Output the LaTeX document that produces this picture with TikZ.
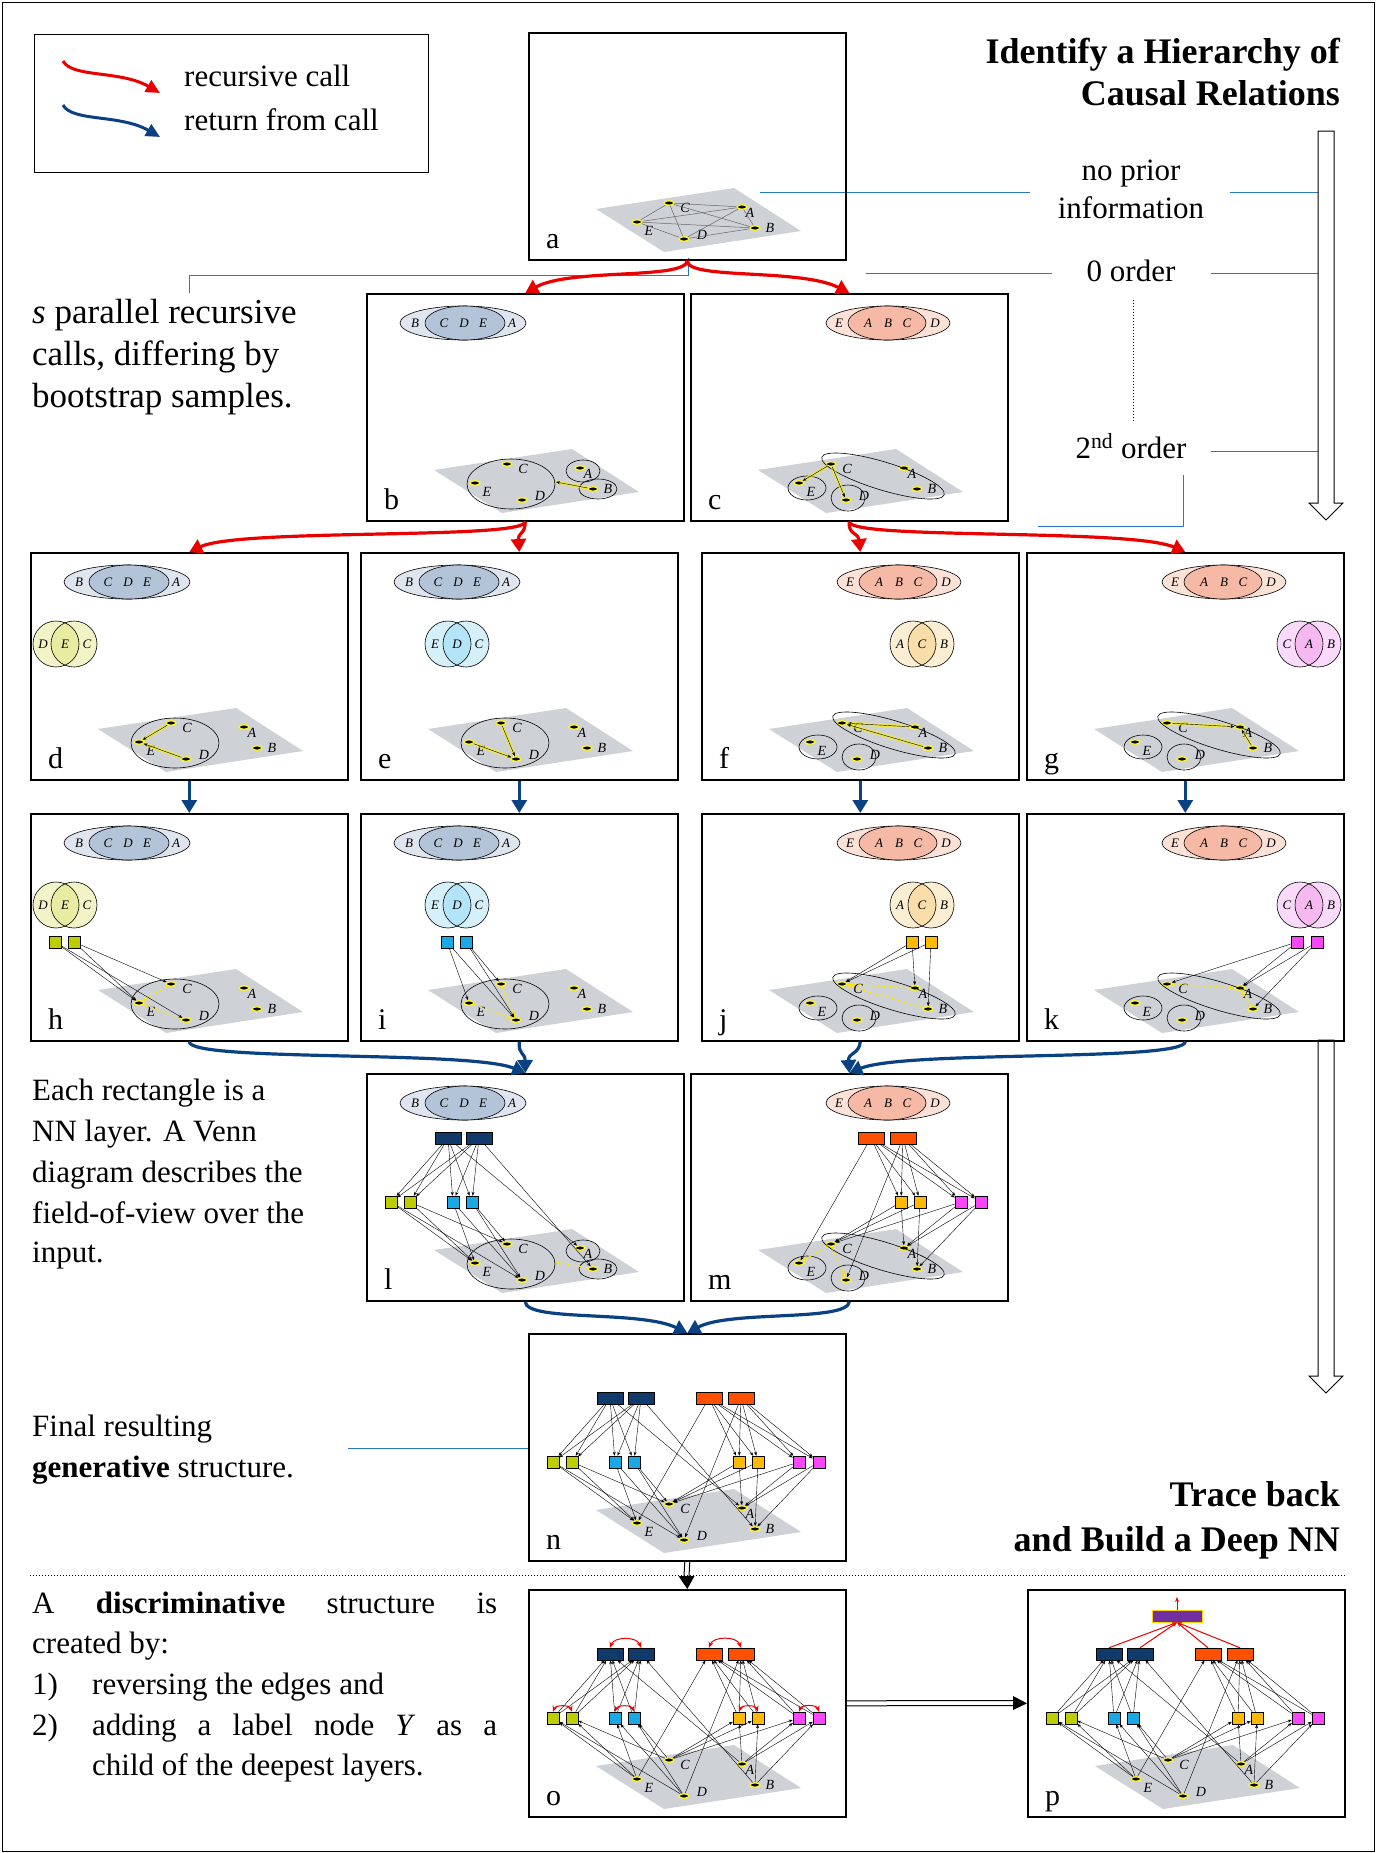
\documentclass[tikz,border=0pt]{standalone}
\usepackage{fontspec}
\setmainfont{Liberation Serif}
\usetikzlibrary{arrows.meta,calc,shapes.geometric}
\definecolor{cdb}{RGB}{15,58,105}
\definecolor{cor}{RGB}{255,80,0}
\definecolor{cg}{RGB}{190,205,0}
\definecolor{cc}{RGB}{25,170,230}
\definecolor{cgo}{RGB}{255,185,0}
\definecolor{cm}{RGB}{250,70,250}
\definecolor{cpu}{RGB}{112,48,160}
\definecolor{cpl}{RGB}{206,210,214}
\definecolor{cred}{RGB}{235,0,0}
\definecolor{carb}{RGB}{10,65,130}
\definecolor{cln}{RGB}{40,120,200}
\definecolor{vbo}{RGB}{222,229,238}
\definecolor{vbi}{RGB}{180,196,216}
\definecolor{vro}{RGB}{252,225,215}
\definecolor{vri}{RGB}{246,185,165}
\definecolor{sgo}{RGB}{242,244,200}\definecolor{sgi}{RGB}{232,236,160}
\definecolor{sbo}{RGB}{214,240,250}\definecolor{sbi}{RGB}{180,228,248}
\definecolor{soo}{RGB}{252,238,210}\definecolor{soi}{RGB}{250,222,170}
\definecolor{spo}{RGB}{250,218,250}\definecolor{spi}{RGB}{245,185,240}
\newcommand\fsz[1]{\fontsize{#1}{#1}\selectfont}
\tikzset{
 pbox/.style={draw=black,line width=1.6pt,minimum width=317pt,minimum height=227pt,inner sep=0pt},
 plab/.style={font=\fsz{30},inner sep=0pt},
 ptn/.style={ellipse,fill=black,draw=yellow!85!white,line width=1.3pt,minimum width=10pt,minimum height=4.5pt,inner sep=0pt},
 plb/.style={font=\fsz{14}\itshape,inner sep=0pt},
 vlb/.style={font=\fsz{13}\itshape,inner sep=0pt},
 sqr/.style={draw=black,line width=0.5pt,minimum size=12pt,inner sep=0pt},
 rct/.style={draw=black,line width=0.5pt,minimum width=26pt,minimum height=12pt,inner sep=0pt},
 ge/.style={-{Stealth[length=4pt,width=3pt]},line width=0.4pt},
 di/.style={{Stealth[length=4pt,width=3pt]}-,line width=0.4pt},
 glow/.style={draw=yellow,line width=3.5pt,opacity=0.6},
 ydot/.style={draw=yellow!90!orange,dashed,line width=1.3pt,-{Stealth[length=5pt,width=4pt]}},
 rarr/.style={draw=cred,line width=3.2pt,-{Triangle[length=13pt,width=15pt]}},
 barr/.style={draw=carb,line width=3.2pt,-{Triangle[length=13pt,width=15pt]}},
 bln/.style={draw=cln,line width=1pt},
 txt/.style={font=\fsz{31},inner sep=0pt,anchor=base west},
 ell/.style={draw=black,line width=0.6pt},
}
\newcommand\pbox[3]{\node[pbox,anchor=north west] (#1) at (#2,#3) {};
 \node[plab,anchor=base west] (#1lab) at (#2+18,#3+216) {#1};}
\newcommand\plane[1]{%
 \fill[cpl] (68,177)--(206,156)--(273,199)--(136,220)--cycle;
 \node[ptn] (#1C) at (141,171) {}; \node[plb] (#1Cl) at (157,176) {C};
 \node[ptn] (#1E) at (109,190) {}; \node[plb] (#1El) at (121,199) {E};
 \node[ptn] (#1D) at (156,207) {}; \node[plb] (#1Dl) at (174,203) {D};
 \node[ptn] (#1A) at (214,175) {}; \node[plb] (#1Al) at (222,181) {A};
 \node[ptn] (#1B) at (227,196) {}; \node[plb] (#1Bl) at (242,196) {B};}
\newcommand\venB[1]{%
 \filldraw[fill=vbo,ell] (97,30) ellipse (63pt and 17pt);
 \filldraw[fill=vbi,ell] (99,30) ellipse (40pt and 17pt);
 \node[vlb] (#1v1) at (49,30) {B}; \node[vlb] (#1v2) at (78,30) {C};
 \node[vlb] (#1v3) at (98,30) {D}; \node[vlb] (#1v4) at (117,30) {E};
 \node[vlb] (#1v5) at (146,30) {A};}
\newcommand\venR[1]{%
 \filldraw[fill=vro,ell] (198,30) ellipse (62pt and 17pt);
 \filldraw[fill=vri,ell] (197,30) ellipse (39pt and 17pt);
 \node[vlb] (#1v1) at (149,30) {E}; \node[vlb] (#1v2) at (178,30) {A};
 \node[vlb] (#1v3) at (198,30) {B}; \node[vlb] (#1v4) at (217,30) {C};
 \node[vlb] (#1v5) at (245,30) {D};}
\newcommand\venS[7]{%
 \fill[#3] (#2-9,92) circle (23pt); \fill[#3] (#2+9,92) circle (23pt);
 \begin{scope}\clip (#2-9,92) circle (23pt); \fill[#4] (#2+9,92) circle (23pt);\end{scope}
 \draw[ell] (#2-9,92) circle (23pt); \draw[ell] (#2+9,92) circle (23pt);
 \node[vlb] (#1s1) at (#2-22,92) {#5}; \node[vlb] (#1s2) at (#2,92) {#6};
 \node[vlb] (#1s3) at (#2+22,92) {#7};}
\newcommand\ellB{\draw[ell] (145,191) ellipse (44pt and 25pt);}
\newcommand\ellAB{\draw[ell] (217,178) ellipse (17pt and 11pt); \draw[ell] (232,196) ellipse (19pt and 10pt);}
\newcommand\ellC{\draw[ell,rotate around={-17:(193,183)}] (193,183) ellipse (64pt and 14pt);
 \draw[ell] (117,195) ellipse (19pt and 12pt); \draw[ell] (158,205) ellipse (17pt and 13pt);}
\newcommand\hl[2]{\draw[glow] (#1)--(#2); \draw[ge] (#1)--(#2);}
\newcommand\Gsq[2]{\node[sqr,fill=cg] (#1G1) at (25,129) {}; \node[sqr,fill=cg] (#1G2) at (44,129) {};
 \draw[#2] (#1G1)--(#1E); \draw[#2] (#1G1)--(#1D); \draw[#2] (#1G2)--(#1E); \draw[#2] (#1G2)--(#1C);}
\newcommand\Bsq[2]{\node[sqr,fill=cc] (#1B1) at (87,129) {}; \node[sqr,fill=cc] (#1B2) at (106,129) {};
 \draw[#2] (#1B1)--(#1E); \draw[#2] (#1B1)--(#1D); \draw[#2] (#1B2)--(#1D); \draw[#2] (#1B2)--(#1C);}
\newcommand\Osq[2]{\node[sqr,fill=cgo] (#1O1) at (211,129) {}; \node[sqr,fill=cgo] (#1O2) at (230,129) {};
 \draw[#2] (#1O1)--(#1C); \draw[#2] (#1O1)--(#1A); \draw[#2] (#1O2)--(#1C); \draw[#2] (#1O2)--(#1B);}
\newcommand\Msq[2]{\node[sqr,fill=cm] (#1M1) at (271,129) {}; \node[sqr,fill=cm] (#1M2) at (291,129) {};
 \draw[#2] (#1M1)--(#1C); \draw[#2] (#1M1)--(#1A); \draw[#2] (#1M2)--(#1A); \draw[#2] (#1M2)--(#1B);}
\newcommand\Brc[2]{\node[rct,fill=cdb] (#1R1) at (82,65) {}; \node[rct,fill=cdb] (#1R2) at (113,65) {};
 \foreach \t in {G1,G2,B1,B2} {\draw[#2] (#1R1)--(#1\t); \draw[#2] (#1R2)--(#1\t);}
 \draw[#2] (#1R1)--(#1A); \draw[#2] (#1R2)--(#1B);}
\newcommand\Orc[2]{\node[rct,fill=cor] (#1R3) at (181,65) {}; \node[rct,fill=cor] (#1R4) at (213,65) {};
 \foreach \t in {O1,O2,M1,M2} {\draw[#2] (#1R3)--(#1\t); \draw[#2] (#1R4)--(#1\t);}
 \draw[#2] (#1R3)--(#1E); \draw[#2] (#1R4)--(#1D);}
\begin{document}
\begin{tikzpicture}[x=1pt,y=-1pt]
\useasboundingbox (0,0) rectangle (1376,1853);
\fill[white] (0,0) rectangle (1376,1853);
\draw[line width=1pt] (2,2) rectangle (1374,1851);
% legend
\node[draw,line width=1pt,anchor=north west,minimum width=394pt,minimum height=138pt] (leg) at (34,34) {};
\coordinate (lr1) at (63,61); \coordinate (lr2) at (160,93);
\coordinate (lb1) at (63,105); \coordinate (lb2) at (160,137);
\draw[draw=cred,line width=3pt,-{Triangle[length=14pt,width=13pt]}] (lr1) .. controls (72,78) and (120,70) .. (lr2);
\draw[draw=carb,line width=3pt,-{Triangle[length=14pt,width=13pt]}] (lb1) .. controls (72,122) and (120,114) .. (lb2);
\node[txt] (t1) at (184,86) {recursive call};
\node[txt] (t2) at (184,130) {return from call};
% titles
\node[font=\fsz{36}\bfseries,inner sep=0pt,anchor=base east] (h1) at (1340,63) {Identify a Hierarchy of};
\node[font=\fsz{36}\bfseries,inner sep=0pt,anchor=base east] (h2) at (1340,105) {Causal Relations};
\node[font=\fsz{36}\bfseries,inner sep=0pt,anchor=base east] (h3) at (1340,1506) {Trace back};
\node[font=\fsz{36}\bfseries,inner sep=0pt,anchor=base east] (h4) at (1340,1551) {and Build a Deep NN};
% right labels
\node[font=\fsz{31},inner sep=0pt,anchor=base] (np1) at (1131,180) {no prior};
\node[font=\fsz{31},inner sep=0pt,anchor=base] (np2) at (1131,218) {information};
\node[font=\fsz{31},inner sep=0pt,anchor=base] (o0) at (1131,281) {0 order};
\node[font=\fsz{31},inner sep=0pt,anchor=base] (o2) at (1131,458) {2\textsuperscript{nd} order};
\draw[bln] (760,192)--(1030,192); \draw[bln] (1230,192)--(1326,192);
\draw[bln] (866,273)--(1052,273); \draw[bln] (1211,273)--(1326,273);
\draw[bln] (1211,451)--(1326,451);
\draw[bln] (1183,475)--(1183,526)--(1038,526);
\draw[line width=1pt,dotted] (1133,300)--(1133,423);
\draw[bln] (688,258)--(688,275)--(189,275)--(189,293);
\draw[bln] (348,1448)--(528,1448);
\draw[line width=1pt,dotted] (30,1575)--(1346,1575);
% hollow arrows
\draw[line width=1pt,fill=white] (1318,131)--(1334,131)--(1334,503)--(1343,503)--(1326,520)--(1309,503)--(1318,503)--cycle;
\draw[line width=1pt,fill=white] (1318,1040)--(1334,1040)--(1334,1376)--(1343,1376)--(1326,1393)--(1309,1376)--(1318,1376)--cycle;
% left texts
\node[txt,font=\fsz{35}] (s1) at (32,323) {\textit{s} parallel recursive};
\node[txt,font=\fsz{35}] (s2) at (32,365) {calls, differing by};
\node[txt,font=\fsz{35}] (s3) at (32,407) {bootstrap samples.};
\node[txt] (e1) at (32,1100) {Each rectangle is a};
\node[txt] (e2) at (32,1141) {NN layer. A Venn};
\node[txt] (e3) at (32,1182) {diagram describes the};
\node[txt] (e4) at (32,1223) {field-of-view over the};
\node[txt] (e5) at (32,1262) {input.};
\node[txt] (f1) at (32,1436) {Final resulting};
\node[txt] (f2) at (32,1477) {\textbf{generative} structure.};
\node[txt] (g1) at (32,1613) {\makebox[465pt][s]{A \textbf{discriminative} structure is}};
\node[txt] (g2) at (32,1653) {created by:};
\node[txt] (g3) at (32,1694) {1)};
\node[txt] (g3b) at (92,1694) {reversing the edges and};
\node[txt] (g4) at (32,1735) {2)};
\node[txt] (g4b) at (92,1735) {\makebox[405pt][s]{adding a label node \textit{Y} as a}};
\node[txt] (g5) at (92,1775) {child of the deepest layers.};
% ---- panels
\pbox{a}{528}{32}
\begin{scope}[shift={(528,32)}]\plane{a}
 \foreach \u/\v in {C/A,C/B,C/D,E/C,E/A,E/B,E/D,D/A,D/B,A/B} \draw[black!60,line width=0.5pt] (a\u)--(a\v);
\end{scope}
\pbox{b}{366}{293}
\begin{scope}[shift={(366,293)}]\venB{b}\plane{b}\ellB\ellAB\coordinate (bcut) at (190,189);\hl{bB}{bcut}\end{scope}
\pbox{c}{690}{293}
\begin{scope}[shift={(690,293)}]\venR{c}\plane{c}\ellC\hl{cC}{cE}\hl{cC}{cD}\end{scope}
\pbox{d}{30}{552}
\begin{scope}[shift={(30,552)}]\venB{d}\venS{d}{35}{sgo}{sgi}{D}{E}{C}\plane{d}\ellB\hl{dC}{dE}\hl{dD}{dE}\end{scope}
\pbox{e}{360}{552}
\begin{scope}[shift={(360,552)}]\venB{e}\venS{e}{97}{sbo}{sbi}{E}{D}{C}\plane{e}\ellB\hl{eE}{eD}\hl{eC}{eD}\end{scope}
\pbox{f}{701}{552}
\begin{scope}[shift={(701,552)}]\venR{f}\venS{f}{221}{soo}{soi}{A}{C}{B}\plane{f}\ellC\hl{fA}{fC}\hl{fB}{fC}\end{scope}
\pbox{g}{1026}{552}
\begin{scope}[shift={(1026,552)}]\venR{g}\venS{g}{283}{spo}{spi}{C}{A}{B}\plane{g}\ellC\hl{gC}{gA}\hl{gB}{gA}\end{scope}
\pbox{h}{30}{813}
\begin{scope}[shift={(30,813)}]\venB{h}\venS{h}{35}{sgo}{sgi}{D}{E}{C}\plane{h}\ellB\draw[ydot] (hC)--(hE);\draw[ydot] (hD)--(hE);\Gsq{h}{ge}\end{scope}
\pbox{i}{360}{813}
\begin{scope}[shift={(360,813)}]\venB{i}\venS{i}{97}{sbo}{sbi}{E}{D}{C}\plane{i}\ellB\draw[ydot] (iE)--(iD);\draw[ydot] (iC)--(iD);\Bsq{i}{ge}\end{scope}
\pbox{j}{701}{813}
\begin{scope}[shift={(701,813)}]\venR{j}\venS{j}{221}{soo}{soi}{A}{C}{B}\plane{j}\ellC\draw[ydot] (jA)--(jC);\draw[ydot] (jB)--(jC);\Osq{j}{ge}\end{scope}
\pbox{k}{1026}{813}
\begin{scope}[shift={(1026,813)}]\venR{k}\venS{k}{283}{spo}{spi}{C}{A}{B}\plane{k}\ellC\draw[ydot] (kC)--(kA);\draw[ydot] (kB)--(kA);\Msq{k}{ge}\end{scope}
\pbox{l}{366}{1073}
\begin{scope}[shift={(366,1073)}]\venB{l}\plane{l}\ellB\ellAB\coordinate (lcut) at (190,189);\draw[ydot] (lB)--(lcut);
 \Gsq{l}{ge}\Bsq{l}{ge}\Brc{l}{ge}\end{scope}
\pbox{m}{690}{1073}
\begin{scope}[shift={(690,1073)}]\venR{m}\plane{m}\ellC\draw[ydot] (mC)--(mE);\draw[ydot] (mC)--(mD);
 \Osq{m}{ge}\Msq{m}{ge}\Orc{m}{ge}\end{scope}
\pbox{n}{528}{1333}
\begin{scope}[shift={(528,1333)}]\plane{n}\Gsq{n}{ge}\Bsq{n}{ge}\Osq{n}{ge}\Msq{n}{ge}\Brc{n}{ge}\Orc{n}{ge}\end{scope}
\pbox{o}{528}{1589}
\begin{scope}[shift={(528,1589)}]\plane{o}\Gsq{o}{di}\Bsq{o}{di}\Osq{o}{di}\Msq{o}{di}\Brc{o}{di}\Orc{o}{di}
 \foreach \u/\v in {R1/R2,R3/R4,G1/G2,B1/B2,O1/O2,M1/M2}
  \draw[cred,line width=1pt,{Stealth[length=6pt,width=5pt]}-{Stealth[length=6pt,width=5pt]}] (o\u.north) to[bend left=70] (o\v.north);
\end{scope}
\pbox{p}{1027}{1589}
\begin{scope}[shift={(1027,1589)}]\plane{p}\Gsq{p}{di}\Bsq{p}{di}\Osq{p}{di}\Msq{p}{di}\Brc{p}{di}\Orc{p}{di}
 \node[draw=yellow!70!orange,fill=cpu,line width=0.8pt,minimum width=50pt,minimum height=12pt,inner sep=0pt] (pY) at (150,27) {};
 \coordinate (pYo) at (150,8);
 \foreach \t in {R1,R2,R3,R4} \draw[cred,line width=1pt,-{Stealth[length=5pt,width=4pt]}] (p\t.north)--(pY.south);
 \draw[cred,line width=1pt,-{Stealth[length=5pt,width=4pt]}] (pY.north)--(pYo);
\end{scope}
% ---- flow arrows
\draw[rarr] (a.south) .. controls (686,280) and (570,268) .. (b.north);
\draw[rarr] (a.south) .. controls (686,280) and (800,268) .. (c.north);
\draw[rarr] (b.south) .. controls (525,540) and (240,528) .. (d.north);
\draw[rarr] (b.south) .. controls (525,535) and (518,532) .. (e.north);
\draw[rarr] (c.south) .. controls (848,535) and (858,532) .. (f.north);
\draw[rarr] (c.south) .. controls (848,540) and (1130,528) .. (g.north);
\foreach \u/\v in {d/h,e/i,f/j,g/k} \draw[barr] (\u.south)--(\v.north);
\draw[barr] (h.south) .. controls (188,1062) and (470,1050) .. (l.north);
\draw[barr] (i.south) .. controls (518,1055) and (525,1052) .. (l.north);
\draw[barr] (j.south) .. controls (859,1055) and (848,1052) .. (m.north);
\draw[barr] (k.south) .. controls (1184,1062) and (905,1050) .. (m.north);
\draw[barr] (l.south) .. controls (525,1322) and (640,1310) .. (n.north);
\draw[barr] (m.south) .. controls (848,1322) and (730,1310) .. (n.north);
% double arrows
\coordinate (no1) at (686.5,1576); \coordinate (op1) at (1013,1703);
\draw[line width=1pt] ([xshift=-2.5pt]n.south)--([xshift=-2.5pt]no1);
\draw[line width=1pt] ([xshift=2.5pt]n.south)--([xshift=2.5pt]no1);
\fill[black] ([xshift=-8pt]no1)--([xshift=8pt]no1)--(o.north)--cycle;
\draw[line width=1pt] ([yshift=-2.5pt]o.east)--([yshift=-2.5pt]op1);
\draw[line width=1pt] ([yshift=2.5pt]o.east)--([yshift=2.5pt]op1);
\fill[black] ([yshift=-7pt]op1)--([yshift=7pt]op1)--(p.west)--cycle;
\end{tikzpicture}
\end{document}
